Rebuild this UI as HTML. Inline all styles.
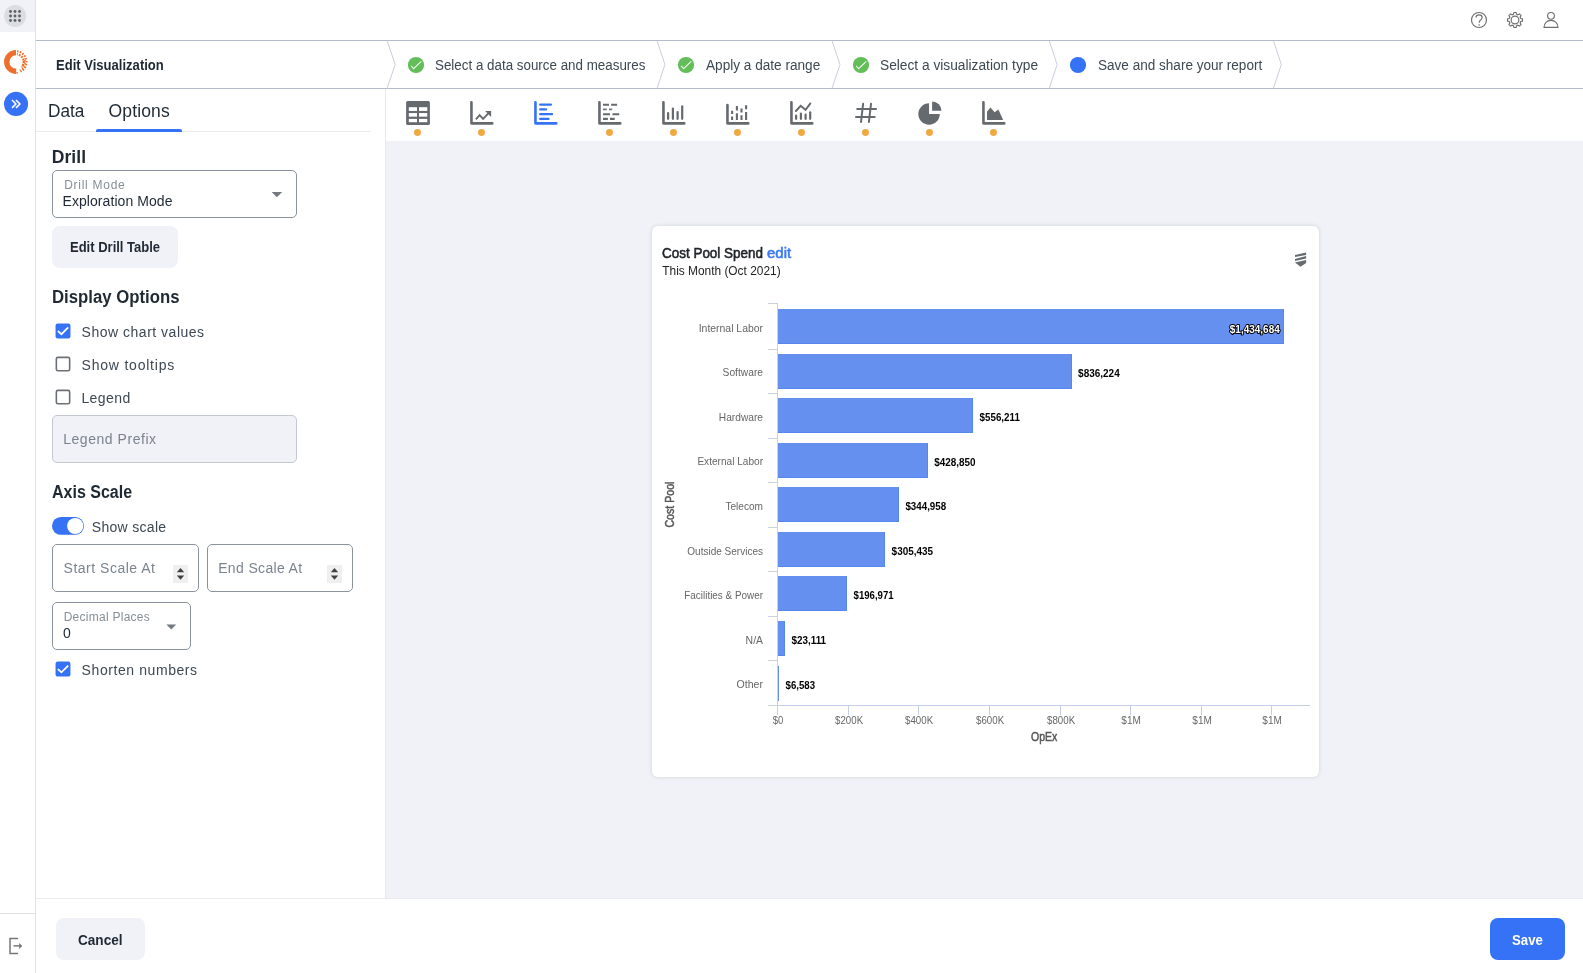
<!DOCTYPE html>
<html lang="en">
<head>
<meta charset="utf-8">
<title>Edit Visualization</title>
<style>
*{box-sizing:border-box;margin:0;padding:0}
html,body{width:1583px;height:973px;overflow:hidden;background:#fff}
body{font-family:"Liberation Sans",sans-serif;color:#212b36;position:relative;will-change:transform}
.abs{position:absolute}
.t{position:absolute;white-space:nowrap;line-height:1}
/* structure */
#rail{left:0;top:0;width:36px;height:973px;background:#fff;border-right:1px solid #e1e1e3}
#railtop{left:0;top:0;width:35px;height:32px;background:#f0f2f7}
#topline{left:36px;top:40px;width:1547px;height:1px;background:#b3bbcd}
#hdrline{left:36px;top:88px;width:1547px;height:1px;background:#b3bbcd}
#panelborder{left:385px;top:89px;width:1px;height:809px;background:#e7e9ef}
#tabline{left:36px;top:131px;width:335px;height:1px;background:#ebebeb}
#tabactive{left:96px;top:129px;width:86px;height:3px;background:#3572f5;border-radius:2px 2px 0 0}
#canvas{left:386px;top:141px;width:1197px;height:757px;background:#f0f2f7}
#footline{left:36px;top:898px;width:1547px;height:1px;background:#e8eaef}
#card{left:652px;top:226px;width:667px;height:551px;background:#fff;border-radius:6px;box-shadow:0 0 4px rgba(20,25,40,.15)}
#raildiv{left:0;top:913px;width:35px;height:1px;background:#e1e1e3}

/* widgets */
.box{position:absolute;border:1px solid #8b939e;border-radius:5px;background:#fff}
.btn{position:absolute;border-radius:8px;background:#f0f2f7}
.spin{position:absolute;width:15px;height:18px;background:#efefef}
</style>
</head>
<body>
<!-- STRUCTURE -->
<div class="abs" id="rail"></div>
<div class="abs" id="railtop"></div>
<div class="abs" id="topline"></div>
<div class="abs" id="hdrline"></div>
<div class="abs" id="panelborder"></div>
<div class="abs" id="tabline"></div>
<div class="abs" id="tabactive"></div>
<div class="abs" id="canvas"></div>
<div class="abs" id="footline"></div>
<div class="abs" id="raildiv"></div>
<!-- RAIL ICONS -->
<svg class="abs" style="left:0;top:0" width="35" height="125" viewBox="0 0 35 125">
<circle cx="15.1" cy="16" r="11" fill="#dadde2"/>
<g fill="#5f6368"><circle cx="10.5" cy="11.55" r="1.45"/><circle cx="15" cy="11.55" r="1.45"/><circle cx="19.5" cy="11.55" r="1.45"/><circle cx="10.5" cy="16.05" r="1.45"/><circle cx="15" cy="16.05" r="1.45"/><circle cx="19.5" cy="16.05" r="1.45"/><circle cx="10.5" cy="20.55" r="1.45"/><circle cx="15" cy="20.55" r="1.45"/><circle cx="19.5" cy="20.55" r="1.45"/></g>
<g fill="none" stroke="#ee6f2d">
<path d="M16 52.58 A9.37 9.37 0 0 0 16.2 71.32" stroke-width="5.4"/>
<path d="M17 51.2 A10.8 10.8 0 0 1 20.5 71.6" stroke-width="2" stroke-dasharray="1.6 1.3"/>
<path d="M17 54.2 A7.8 7.8 0 0 1 23.7 62.5" stroke-width="2.2" stroke-dasharray="1.8 1.1" stroke-dashoffset="1"/>
<path d="M23.7 60.5 A7.8 7.8 0 0 1 21.5 67.5" stroke-width="2.2" stroke-dasharray="2.6 0.8"/>
<path d="M24.5 58 A9.3 9.3 0 0 1 19 70.5" stroke-width="1.4" stroke-dasharray="1.2 1.6" stroke-dashoffset=".6"/>
</g>
<rect x="16.4" y="72" width="1.4" height="1.5" fill="#ee6f2d"/>
<circle cx="16.05" cy="103.9" r="12.05" fill="#3572f5"/>
<path d="M12 100 L15.9 103.95 L12 107.9 M16 100 L19.9 103.95 L16 107.9" fill="none" stroke="#fff" stroke-width="1.6"/>
</svg>
<svg class="abs" style="left:0;top:928px" width="35" height="36" viewBox="0 928 35 36">
<path d="M18.1 938.5 H10 V953.45 H18.1" fill="none" stroke="#777" stroke-width="1.5"/>
<path d="M13.5 945.9 H19.5" stroke="#777" stroke-width="1.5"/><path d="M19.1 942.9 L22.3 945.9 L19.1 948.9 Z" fill="#777"/>
</svg>

<!-- TOP ICONS -->
<svg class="abs" style="left:1460px;top:8px" width="110" height="24" viewBox="1460 8 110 24" fill="none" stroke="#6e6e6e" stroke-width="1.15">
<circle cx="1479" cy="20" r="7.5"/>
<path d="M1476 17.6 C1476 15.6 1477.3 14.9 1479 14.9 C1480.8 14.9 1482.1 15.9 1482.1 17.5 C1482.1 19.9 1479.1 20 1479.1 22.8"/>
<circle cx="1479.1" cy="25" r=".8" fill="#6e6e6e" stroke="none"/>
<path d="M1522.46 18.82 L1522.46 21.18 L1520.76 21.48 L1520.12 23.03 L1521.11 24.44 L1519.44 26.11 L1518.03 25.12 L1516.48 25.76 L1516.18 27.46 L1513.82 27.46 L1513.52 25.76 L1511.97 25.12 L1510.56 26.11 L1508.89 24.44 L1509.88 23.03 L1509.24 21.48 L1507.54 21.18 L1507.54 18.82 L1509.24 18.52 L1509.88 16.97 L1508.89 15.56 L1510.56 13.89 L1511.97 14.88 L1513.52 14.24 L1513.82 12.54 L1516.18 12.54 L1516.48 14.24 L1518.03 14.88 L1519.44 13.89 L1521.11 15.56 L1520.12 16.97 L1520.76 18.52 Z" stroke-linejoin="round" transform="rotate(-90 1515 20)"/>
<circle cx="1515" cy="20" r="3.85"/>
<circle cx="1551" cy="15.85" r="3.4"/>
<path d="M1544 27.4 C1544 23.2 1547 20.4 1551 20.4 C1555 20.4 1558 23.2 1558 27.4 Z" stroke-linejoin="round"/>
</svg>

<!-- HEADER STEPS -->
<svg class="abs" style="left:36px;top:41px" width="1547" height="47" viewBox="36 41 1547 47" fill="none" stroke="#c9cedc" stroke-width="1">
<path d="M387.2 41 L395.2 64.5 L387.2 88"/><path d="M657.2 41 L664.9 64.5 L657.2 88"/><path d="M832.1 41 L840 64.5 L832.1 88"/><path d="M1049.3 41 L1057.1 64.5 L1049.3 88"/><path d="M1273.5 41 L1281.3 64.5 L1273.5 88"/>
<g stroke="none" fill="#63bd58"><circle cx="416" cy="65" r="8.1"/><circle cx="686" cy="65" r="8.1"/><circle cx="861" cy="65" r="8.1"/></g>
<circle cx="1078" cy="65" r="8.1" stroke="none" fill="#3572f5"/>
<g stroke="#fff" stroke-width="1.15" stroke-opacity=".88"><path d="M411.1 65.9 L413.6 68.6 L421.3 61.3"/><path d="M681.1 65.9 L683.6 68.6 L691.3 61.3"/><path d="M856.1 65.9 L858.6 68.6 L866.3 61.3"/></g>
</svg>

<!-- LEFT PANEL -->
<div class="box" style="left:52px;top:170px;width:245px;height:48px"></div>
<svg class="abs" style="left:271px;top:191px" width="12" height="7" viewBox="0 0 12 7"><path d="M0.6 1 H11.2 L5.9 6.2 Z" fill="#757a80"/></svg>
<div class="btn" style="left:52px;top:226px;width:126px;height:42px"></div>
<svg class="abs" id="checks" style="left:50px;top:318px" width="30" height="365" viewBox="50 318 30 365"><rect x="55.55" y="323.4" width="14.9" height="15" rx="2.2" fill="#3572f5"/><path d="M57.90 331.00 L61.40 334.20 L68.20 327.40" fill="none" stroke="#fff" stroke-width="1.75"/><rect x="56.35" y="357.40000000000003" width="13.3" height="13.4" rx="1.6" fill="#fff" stroke="#6c7178" stroke-width="1.6"/><rect x="56.35" y="390.40000000000003" width="13.3" height="13.4" rx="1.6" fill="#fff" stroke="#6c7178" stroke-width="1.6"/><rect x="55.55" y="661.6" width="14.9" height="15" rx="2.2" fill="#3572f5"/><path d="M57.90 669.20 L61.40 672.40 L68.20 665.60" fill="none" stroke="#fff" stroke-width="1.75"/></svg>
<div class="box" style="left:52px;top:415px;width:245px;height:48px;background:#f0f2f7;border-color:#c3c8d2"></div>
<svg class="abs" style="left:50px;top:515px" width="38" height="24" viewBox="50 515 38 24"><rect x="52" y="517.6" width="32" height="18" rx="9" fill="#000" opacity=".06"/><rect x="52" y="517" width="32" height="17.8" rx="8.9" fill="#3572f5"/><circle cx="75.2" cy="526" r="8.1" fill="#fff"/></svg>
<div class="box" style="left:52px;top:544px;width:147px;height:48px"></div>
<div class="box" style="left:207px;top:544px;width:146px;height:48px"></div>
<div class="spin" style="left:173px;top:565px"></div>
<div class="spin" style="left:327px;top:565px"></div>
<svg class="abs" style="left:173px;top:565px" width="15" height="18" viewBox="0 0 15 18"><path d="M3.8 7.3 L7.5 3 L11.2 7.3 Z M3.8 10.5 L7.5 14.8 L11.2 10.5 Z" fill="#3f4245"/></svg>
<svg class="abs" style="left:327px;top:565px" width="15" height="18" viewBox="0 0 15 18"><path d="M3.8 7.3 L7.5 3 L11.2 7.3 Z M3.8 10.5 L7.5 14.8 L11.2 10.5 Z" fill="#3f4245"/></svg>
<div class="box" style="left:52px;top:602px;width:139px;height:48px"></div>
<svg class="abs" style="left:166px;top:623.5px" width="11" height="6" viewBox="0 0 11 6"><path d="M0.4 0.4 H10.2 L5.3 5.4 Z" fill="#757a80"/></svg>

<!-- TOOLBAR -->
<svg class="abs" id="toolbar" style="left:396px;top:96px" width="640" height="44" viewBox="396 96 640 44">
<g fill="#f0a840">
<circle cx="417.5" cy="132.5" r="3.45"/>
<circle cx="481.5" cy="132.5" r="3.45"/>
<circle cx="609.5" cy="132.5" r="3.45"/>
<circle cx="673.5" cy="132.5" r="3.45"/>
<circle cx="737.5" cy="132.5" r="3.45"/>
<circle cx="801.5" cy="132.5" r="3.45"/>
<circle cx="865.5" cy="132.5" r="3.45"/>
<circle cx="929.5" cy="132.5" r="3.45"/>
<circle cx="993.5" cy="132.5" r="3.45"/>
</g>
<rect x="406.1" y="101.05" width="23.8" height="24" rx="1.6" fill="#656a6f"/>
<g fill="#fff">
<rect x="408.8" y="107.2" width="8.2" height="3.75"/><rect x="419" y="107.2" width="8.3" height="3.75"/>
<rect x="408.8" y="113.05" width="8.2" height="3.6"/><rect x="419" y="113.05" width="8.3" height="3.6"/>
<rect x="408.8" y="118.9" width="8.2" height="3.3"/><rect x="419" y="118.9" width="8.3" height="3.3"/>
</g>
<path d="M471.45 102.4 V123.35 H492.30" stroke="#656a6f" stroke-width="2.6" stroke-linecap="round" stroke-linejoin="round" fill="none"/>
<path d="M475.9 119.3 L479.6 115.2 L483.1 118.9 L488.6 113.2" stroke="#656a6f" stroke-width="1.9" fill="none" stroke-linejoin="miter"/>
<path d="M485.2 111 H491.1 V116.9 Z" fill="#656a6f"/>
<path d="M535.45 102.4 V123.35 H556.30" stroke="#3572f5" stroke-width="2.6" stroke-linecap="round" stroke-linejoin="round" fill="none"/>
<g stroke="#3572f5" stroke-width="2.3" stroke-linecap="round"><path d="M540.2 104.7 H550.9"/><path d="M540.2 109.45 H546"/><path d="M540.2 114.2 H552"/><path d="M540.2 118.9 H548.5"/></g>
<path d="M599.45 102.4 V123.35 H620.30" stroke="#656a6f" stroke-width="2.6" stroke-linecap="round" stroke-linejoin="round" fill="none"/>
<g stroke="#656a6f" stroke-width="2.1"><path d="M603 104.7 H609 M611.1 104.7 H617.1"/><path d="M603 109.45 H606.8 M609 109.45 H612.2" stroke-width="1.8" opacity=".9"/><path d="M603 114.2 H610 M612.5 114.2 H619.2"/><path d="M603 118.9 H607.9 M610 118.9 H614.7"/></g>
<path d="M663.45 102.4 V123.35 H684.30" stroke="#656a6f" stroke-width="2.6" stroke-linecap="round" stroke-linejoin="round" fill="none"/>
<g stroke="#656a6f" stroke-width="2.2" stroke-linecap="round"><path d="M668.1 113.2 V118.8"/><path d="M672.9 108.5 V118.8"/><path d="M677.6 112.1 V118.8"/><path d="M682.2 106.3 V118.8"/></g>
<path d="M727.45 105 V123.35 H748.30" stroke="#656a6f" stroke-width="2.6" stroke-linecap="round" stroke-linejoin="round" fill="none"/>
<g stroke="#656a6f" stroke-width="2.1"><path d="M732.1 110.85 V113.9 M732.1 116.5 V119.9"/><path d="M736.9 106.1 V110.5 M736.9 113.2 V119.9"/><path d="M741.5 108.4 V112.55 M741.5 115.3 V119.9"/><path d="M746.1 105.2 V109.3 M746.1 112.1 V119.9"/></g>
<path d="M791.45 102.4 V123.35 H812.30" stroke="#656a6f" stroke-width="2.6" stroke-linecap="round" stroke-linejoin="round" fill="none"/>
<path d="M795.9 111 L800.7 105.8 L805.5 109.8 L810.4 103.4" stroke="#656a6f" stroke-width="1.9" fill="none" stroke-linecap="round" stroke-linejoin="miter"/>
<g stroke="#656a6f" stroke-width="2.2" stroke-linecap="round"><path d="M796.1 115.7 V118.8"/><path d="M800.9 113.6 V118.8"/><path d="M805.6 114.7 V118.8"/><path d="M810.2 112.3 V118.8"/></g>
<g stroke="#656a6f" stroke-width="2" stroke-linecap="round"><path d="M857.2 108.95 H876 M856 117 H874.7"/><path d="M863.1 103.8 L861 122 M871 103.8 L868.9 122"/></g>
<path d="M929.05 114 V103.25 A10.75 10.75 0 1 0 939.8 114 Z" fill="#656a6f"/>
<path d="M932.1 110.85 V101.45 A9.4 9.4 0 0 1 941.5 110.85 Z" fill="#656a6f"/>
<path d="M983.45 102.4 V123.35 H1004.30" stroke="#656a6f" stroke-width="2.6" stroke-linecap="round" stroke-linejoin="round" fill="none"/>
<path d="M987.05 119.9 V111.5 L990.5 107.4 L994.6 112.3 L998.4 109.6 L1003.15 119.9 Z" fill="#656a6f"/>
</svg>
<!-- CHART CARD -->
<div class="abs" id="card"></div>
<svg class="abs" id="chart" style="left:652px;top:226px" width="667" height="551" viewBox="652 226 667 551" font-family="Liberation Sans, sans-serif">
<text x="662" y="257.7" font-size="14" fill="#1f2328" stroke="#1f2328" stroke-width=".55" textLength="101" lengthAdjust="spacingAndGlyphs">Cost Pool Spend</text>
<text x="767.1" y="257.7" font-size="14" fill="#3b78f2" stroke="#3b78f2" stroke-width=".55" textLength="24" lengthAdjust="spacingAndGlyphs">edit</text>
<text x="662.3" y="274.9" font-size="12" fill="#222" textLength="118.3" lengthAdjust="spacingAndGlyphs">This Month (Oct 2021)</text>
<g fill="#666b70"><polygon points="1295,255 1306.1,252.5 1306.1,254.9 1295,257"/><polygon points="1295,259 1306.1,256.1 1306.1,258.6 1295,261"/><polygon points="1295,262.6 1306.1,260 1306.1,262.9 1300.5,266.7"/></g>
<g stroke="#ccd2da" stroke-width="1" fill="none">
<path d="M777.5 303 V705"/>
<path d="M768 303.50 H777.5"/>
<path d="M768 349.50 H777.5"/>
<path d="M768 393.50 H777.5"/>
<path d="M768 438.50 H777.5"/>
<path d="M768 482.50 H777.5"/>
<path d="M768 527.50 H777.5"/>
<path d="M768 571.50 H777.5"/>
<path d="M768 616.50 H777.5"/>
<path d="M768 660.50 H777.5"/>
<path d="M768 705.50 H777.5"/>
</g>
<g stroke="#c3cfe9" stroke-width="1" fill="none"><path d="M777 705.5 H1310"/>
<path d="M777.50 705.5 V715"/>
<path d="M848.50 705.5 V715"/>
<path d="M918.50 705.5 V715"/>
<path d="M989.50 705.5 V715"/>
<path d="M1060.50 705.5 V715"/>
<path d="M1130.50 705.5 V715"/>
<path d="M1201.50 705.5 V715"/>
<path d="M1271.50 705.5 V715"/>
</g>
<g fill="#6590ef">
<rect x="778.0" y="309" width="506.00" height="35"/>
<path d="M778.0 343.5 H1283.50 V309" fill="none" stroke="#5787ee" stroke-width="1"/>
<rect x="778.0" y="354" width="294.00" height="35"/>
<path d="M778.0 388.5 H1071.50 V354" fill="none" stroke="#5787ee" stroke-width="1"/>
<rect x="778.0" y="398" width="195.00" height="35"/>
<path d="M778.0 432.5 H972.50 V398" fill="none" stroke="#5787ee" stroke-width="1"/>
<rect x="778.0" y="443" width="150.00" height="35"/>
<path d="M778.0 477.5 H927.50 V443" fill="none" stroke="#5787ee" stroke-width="1"/>
<rect x="778.0" y="487" width="121.00" height="35"/>
<path d="M778.0 521.5 H898.50 V487" fill="none" stroke="#5787ee" stroke-width="1"/>
<rect x="778.0" y="532" width="107.00" height="35"/>
<path d="M778.0 566.5 H884.50 V532" fill="none" stroke="#5787ee" stroke-width="1"/>
<rect x="778.0" y="576" width="69.00" height="35"/>
<path d="M778.0 610.5 H846.50 V576" fill="none" stroke="#5787ee" stroke-width="1"/>
<rect x="778.0" y="621" width="7.00" height="35"/>
<path d="M778.0 655.5 H784.50 V621" fill="none" stroke="#5787ee" stroke-width="1"/>
<rect x="778.0" y="666" width="1.00" height="35"/>
</g>
<g font-size="11.5" fill="#666" text-anchor="end">
<text x="763" y="332.2" textLength="64.3" lengthAdjust="spacingAndGlyphs">Internal Labor</text>
<text x="763" y="376.1" textLength="40.4" lengthAdjust="spacingAndGlyphs">Software</text>
<text x="763" y="420.9" textLength="44.2" lengthAdjust="spacingAndGlyphs">Hardware</text>
<text x="763" y="465.2" textLength="65.6" lengthAdjust="spacingAndGlyphs">External Labor</text>
<text x="763" y="509.9" textLength="37.6" lengthAdjust="spacingAndGlyphs">Telecom</text>
<text x="763" y="554.7" textLength="75.7" lengthAdjust="spacingAndGlyphs">Outside Services</text>
<text x="763" y="599.1" textLength="78.7" lengthAdjust="spacingAndGlyphs">Facilities &amp; Power</text>
<text x="763" y="643.9" textLength="17.4" lengthAdjust="spacingAndGlyphs">N/A</text>
<text x="763" y="688.1" textLength="26.4" lengthAdjust="spacingAndGlyphs">Other</text>
</g>
<g font-size="11" font-weight="bold" fill="#000">
<text x="1229.8" y="332.8" textLength="50" lengthAdjust="spacingAndGlyphs" fill="#fff" stroke="#000" stroke-width="2" stroke-linejoin="round" paint-order="stroke">$1,434,684</text>
<text x="1078.1" y="377.0" textLength="41.6" lengthAdjust="spacingAndGlyphs">$836,224</text>
<text x="979.6" y="421.0" textLength="40.3" lengthAdjust="spacingAndGlyphs">$556,211</text>
<text x="934.3" y="466.2" textLength="41.3" lengthAdjust="spacingAndGlyphs">$428,850</text>
<text x="905.4" y="510.3" textLength="40.8" lengthAdjust="spacingAndGlyphs">$344,958</text>
<text x="891.6" y="555.0" textLength="41.5" lengthAdjust="spacingAndGlyphs">$305,435</text>
<text x="853.6" y="599.2" textLength="40" lengthAdjust="spacingAndGlyphs">$196,971</text>
<text x="791.5" y="644.3" textLength="34.6" lengthAdjust="spacingAndGlyphs">$23,111</text>
<text x="785.6" y="688.8" textLength="29.5" lengthAdjust="spacingAndGlyphs">$6,583</text>
</g>
<g font-size="11" fill="#666" text-anchor="middle">
<text x="778.1" y="724" textLength="10.6" lengthAdjust="spacingAndGlyphs">$0</text>
<text x="849.1" y="724" textLength="28" lengthAdjust="spacingAndGlyphs">$200K</text>
<text x="919.1" y="724" textLength="28" lengthAdjust="spacingAndGlyphs">$400K</text>
<text x="990.1" y="724" textLength="28" lengthAdjust="spacingAndGlyphs">$600K</text>
<text x="1061.1" y="724" textLength="28" lengthAdjust="spacingAndGlyphs">$800K</text>
<text x="1131.1" y="724" textLength="19.5" lengthAdjust="spacingAndGlyphs">$1M</text>
<text x="1202.1" y="724" textLength="19.5" lengthAdjust="spacingAndGlyphs">$1M</text>
<text x="1272.1" y="724" textLength="19.5" lengthAdjust="spacingAndGlyphs">$1M</text>
</g>
<text x="1031" y="741" font-size="12" fill="#555" stroke="#555" stroke-width=".45" textLength="26.3" lengthAdjust="spacingAndGlyphs">OpEx</text>
<text transform="translate(674.3 527.6) rotate(-90)" font-size="12" fill="#555" stroke="#555" stroke-width=".45" textLength="46" lengthAdjust="spacingAndGlyphs">Cost Pool</text>
</svg>
<!-- /CHART CARD -->
<!-- FOOTER -->
<div class="btn" style="left:56px;top:918px;width:89px;height:42px"></div>
<div class="btn" style="left:1490px;top:918px;width:75px;height:42px;background:#3572f5"></div>
<!-- TEXT -->
<span class="t" id="t_title" style="left:55.73px;top:58px;font-size:14px;transform:scaleX(0.9320);transform-origin:0 0;color:#1f2933;font-weight:bold">Edit Visualization</span>
<span class="t" id="t_s1" style="left:435.46px;top:58px;font-size:14px;transform:scaleX(0.9555);transform-origin:0 0;color:#3d4852">Select a data source and measures</span>
<span class="t" id="t_s2" style="left:706.40px;top:58px;font-size:14px;transform:scaleX(0.9721);transform-origin:0 0;color:#3d4852">Apply a date range</span>
<span class="t" id="t_s3" style="left:880.05px;top:58px;font-size:14px;transform:scaleX(0.9810);transform-origin:0 0;color:#3d4852">Select a visualization type</span>
<span class="t" id="t_s4" style="left:1098.06px;top:58px;font-size:14px;transform:scaleX(0.9680);transform-origin:0 0;color:#3d4852">Save and share your report</span>
<span class="t" id="t_data" style="left:47.50px;top:103px;font-size:17.5px;transform:scaleX(0.9837);transform-origin:0 0;color:#1f2933">Data</span>
<span class="t" id="t_opts" style="left:108.49px;top:103px;font-size:17.5px;letter-spacing:0.160px;color:#1f2933">Options</span>
<span class="t" id="t_drill" style="left:51.70px;top:149px;font-size:17.5px;letter-spacing:0.107px;color:#1f2933;font-weight:bold">Drill</span>
<span class="t" id="t_dm" style="left:64.20px;top:179px;font-size:12px;letter-spacing:0.729px;color:#868e96">Drill Mode</span>
<span class="t" id="t_em" style="left:62.50px;top:194px;font-size:14px;letter-spacing:0.070px;color:#1f2933">Exploration Mode</span>
<span class="t" id="t_edt" style="left:69.50px;top:240px;font-size:14px;transform:scaleX(0.9292);transform-origin:0 0;color:#1f2933;font-weight:bold">Edit Drill Table</span>
<span class="t" id="t_do" style="left:51.79px;top:289px;font-size:17.5px;transform:scaleX(0.9569);transform-origin:0 0;color:#1f2933;font-weight:bold">Display Options</span>
<span class="t" id="t_scv" style="left:81.61px;top:325px;font-size:14px;letter-spacing:0.507px;color:#3d4852">Show chart values</span>
<span class="t" id="t_st" style="left:81.61px;top:358px;font-size:14px;letter-spacing:0.776px;color:#3d4852">Show tooltips</span>
<span class="t" id="t_lg" style="left:81.40px;top:391px;font-size:14px;letter-spacing:0.434px;color:#3d4852">Legend</span>
<span class="t" id="t_lp" style="left:63.20px;top:432px;font-size:14px;letter-spacing:0.543px;color:#7b848e">Legend Prefix</span>
<span class="t" id="t_as" style="left:52.19px;top:484px;font-size:17.5px;transform:scaleX(0.9141);transform-origin:0 0;color:#1f2933;font-weight:bold">Axis Scale</span>
<span class="t" id="t_ss" style="left:91.81px;top:520px;font-size:14px;letter-spacing:0.300px;color:#3d4852">Show scale</span>
<span class="t" id="t_ssa" style="left:63.54px;top:561px;font-size:14px;letter-spacing:0.511px;color:#7b848e">Start Scale At</span>
<span class="t" id="t_esa" style="left:218.20px;top:561px;font-size:14px;letter-spacing:0.349px;color:#7b848e">End Scale At</span>
<span class="t" id="t_dp" style="left:63.67px;top:611px;font-size:12px;letter-spacing:0.266px;color:#868e96">Decimal Places</span>
<span class="t" id="t_0" style="left:62.89px;top:626px;font-size:14px;letter-spacing:0.000px;color:#1f2933">0</span>
<span class="t" id="t_sn" style="left:81.61px;top:663px;font-size:14px;letter-spacing:0.579px;color:#3d4852">Shorten numbers</span>
<span class="t" id="t_cancel" style="left:77.92px;top:932px;font-size:15.5px;transform:scaleX(0.8765);transform-origin:0 0;color:#1f2933;font-weight:bold">Cancel</span>
<span class="t" id="t_save" style="left:1511.81px;top:932px;font-size:15.5px;transform:scaleX(0.8522);transform-origin:0 0;color:#fff;font-weight:bold">Save</span>
<!-- /TEXT -->
</body>
</html>
